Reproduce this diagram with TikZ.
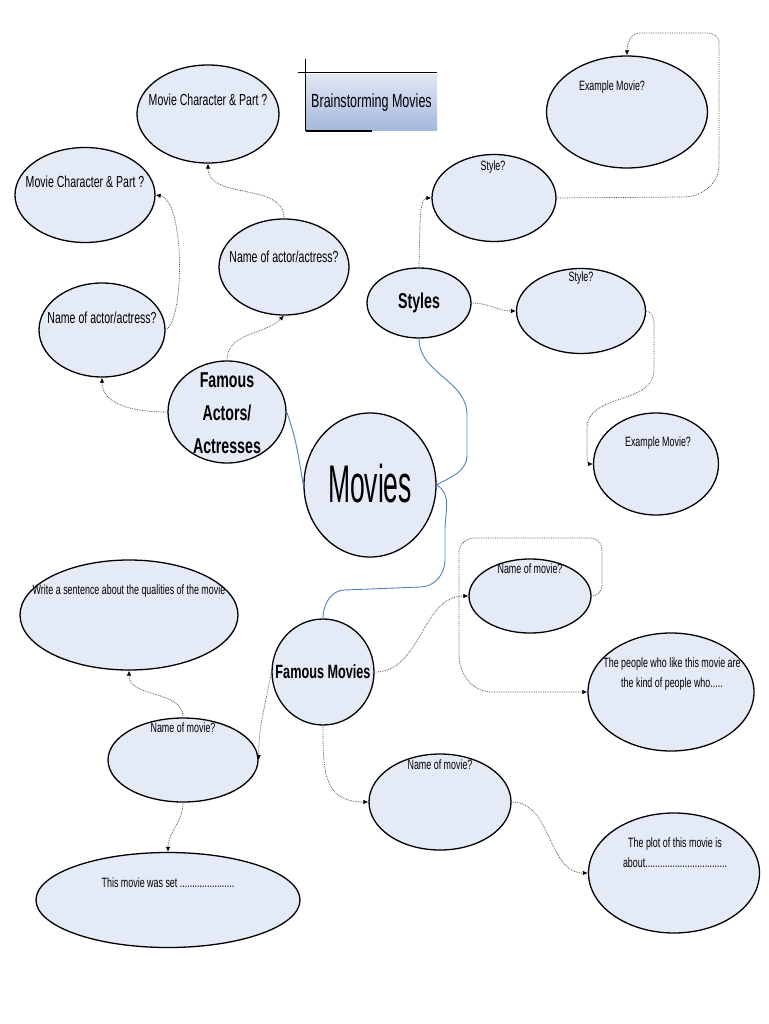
\documentclass[tikz,border=0pt]{standalone}
\usepackage{fontspec}
\setmainfont{Liberation Sans}[FakeStretch=0.66]
\newfontfamily\tallfont{Liberation Sans}[FakeStretch=0.5]
\usepackage{tikz}
\usetikzlibrary{shapes.geometric, arrows.meta}

\definecolor{bubblefill}{RGB}{228,234,246}
\definecolor{trunkblue}{RGB}{79,129,189}
\definecolor{linkgray}{RGB}{70,70,70}
\definecolor{titletop}{RGB}{224,231,243}
\definecolor{titlebot}{RGB}{163,184,222}

\tikzset{
    bubble/.style={ellipse, draw=black, line width=1.3pt, fill=bubblefill, inner sep=0pt},
    note/.style={inner sep=0pt, align=center, font=\fontsize{13.5}{20}\selectfont},
    midnote/.style={note, font=\fontsize{16}{19}\selectfont},
    bignote/.style={note, font=\bfseries\fontsize{21.5}{33}\selectfont},
    link/.style={draw=linkgray, densely dotted, line width=0.75pt, -{Latex[length=5pt,width=4.5pt,black]}},
    trunk/.style={draw=trunkblue, line width=0.9pt},
    titlebox/.style={rectangle, top color=titletop, bottom color=titlebot, inner sep=0pt,
        minimum width=131pt, minimum height=56pt, font=\fontsize{19}{22}\selectfont}
}

\begin{document}
\begin{tikzpicture}[x=1pt, y=1pt]
    \useasboundingbox (0,0) rectangle (768,-1024);

    % title box with its three rules
    \node[titlebox] (title) at (371.5,-103) {Brainstorming Movies};
    \draw[line width=1.2pt] ([xshift=-8pt,yshift=2pt]title.north west) -- ([yshift=2pt]title.north east);
    \draw[line width=1pt] (title.south west) -- ++(0,72);
    \draw[line width=2pt] (title.south west) -- ++(66,0);

    % the bubbles (text is set separately, near the top of each)
    \node[bubble, minimum width=132pt, minimum height=144pt] (movies) at (370,-485) {};
    \node[bubble, minimum width=118pt, minimum height=102pt] (actors) at (227,-412) {};
    \node[bubble, minimum width=130pt, minimum height=96pt] (actorUp) at (284,-267) {};
    \node[bubble, minimum width=126pt, minimum height=94pt] (actorLeft) at (102,-330) {};
    \node[bubble, minimum width=142pt, minimum height=98pt] (charTop) at (208,-114) {};
    \node[bubble, minimum width=140pt, minimum height=95pt] (charLeft) at (85,-195) {};
    \node[bubble, minimum width=104pt, minimum height=70pt] (styles) at (419,-303) {};
    \node[bubble, minimum width=124pt, minimum height=87pt] (styleTop) at (494,-198) {};
    \node[bubble, minimum width=129pt, minimum height=85pt] (styleRight) at (581,-311) {};
    \node[bubble, minimum width=161pt, minimum height=112pt] (exTop) at (627,-112) {};
    \node[bubble, minimum width=125pt, minimum height=102pt] (exRight) at (656,-464) {};
    \node[bubble, minimum width=102pt, minimum height=106pt] (fm) at (323,-672) {};
    \node[bubble, minimum width=122pt, minimum height=74pt] (nameUR) at (530,-596) {};
    \node[bubble, minimum width=166pt, minimum height=118pt] (people) at (671,-692) {};
    \node[bubble, minimum width=142pt, minimum height=96pt] (nameLow) at (440,-802) {};
    \node[bubble, minimum width=171pt, minimum height=120pt] (plot) at (674,-873) {};
    \node[bubble, minimum width=218pt, minimum height=110pt] (write) at (129,-615) {};
    \node[bubble, minimum width=150pt, minimum height=84pt] (nameLeft) at (183,-760) {};
    \node[bubble, minimum width=264pt, minimum height=95pt] (setting) at (168,-900) {};

    % texts
    \node[note, font=\tallfont\fontsize{53}{60}\selectfont] (movies-txt) at (370,-484) {Movies};
    \node[bignote] (actors-txt) at (227,-413) {Famous\\Actors/\\Actresses};
    \node[midnote] (actorUp-txt) at (284,-257) {Name of actor/actress?};
    \node[midnote] (actorLeft-txt) at (102,-318) {Name of actor/actress?};
    \node[midnote] (charTop-txt) at (208,-100) {Movie Character \& Part ?};
    \node[midnote] (charLeft-txt) at (85,-182) {Movie Character \& Part ?};
    \node[bignote] (styles-txt) at (419,-303) {Styles};
    \node[note] (styleTop-txt) at (493,-167) {Style?};
    \node[note] (styleRight-txt) at (581,-278) {Style?};
    \node[note] (exTop-txt) at (612,-87) {Example Movie?};
    \node[note] (exRight-txt) at (658,-443) {Example Movie?};
    \node[bignote, font=\bfseries\fontsize{19.2}{22}\selectfont] (fm-txt) at (323,-672) {Famous Movies};
    \node[note] (nameUR-txt) at (530,-569) {Name of movie?};
    \node[note] (people-txt) at (672,-674) {The people who like this movie are\\the kind of people who.....};
    \node[note] (nameLow-txt) at (440,-765) {Name of movie?};
    \node[note] (plot-txt) at (675,-853) {The plot of this movie is\\about.................................};
    \node[note] (write-txt) at (129,-591) {Write a sentence about the qualities of the movie};
    \node[note] (nameLeft-txt) at (183,-728) {Name of movie?};
    \node[note] (setting-txt) at (168,-883) {This movie was set ......................};

    % blue trunks from the centre
    \draw[trunk] (movies.west) to[out=100, in=-70] (actors.east);
    \draw[trunk] (movies.east) to[out=30, in=-90] (467,-455) -- (467,-415) to[out=90, in=-90] (styles.south);
    \draw[trunk] (movies.east) to[out=-30, in=90] (445,-530) -- (445,-560)
        to[out=-90, in=0] (420,-587) -- (345,-590) to[out=180, in=90] (fm.north);

    % dotted links, actors side
    \draw[link] (actors.west) to[out=180, in=-90] (actorLeft.south);
    \draw[link] (actorLeft.east) .. controls (185,-320) and (185,-200) .. (charLeft.east);
    \draw[link] (actors.north) to[out=90, in=-135] (actorUp.south);
    \draw[link] (actorUp.north) to[out=90, in=-90] (charTop.south);

    % styles side
    \draw[link] (styles.north) .. controls (420,-215) and (420,-198) .. (styleTop.west);
    \draw[link] (styleTop.east) -- (683,-197) to[out=0, in=-90] (719,-165) -- (719,-42)
        to[out=90, in=0] (707,-33) -- (640,-33) to[out=180, in=90] (exTop.north);
    \draw[link] (styles.east) to[out=0, in=180] (styleRight.west);
    \draw[link] (styleRight.east) to[out=-10, in=90] (654,-335) -- (654,-370)
        to[out=-90, in=90] (587,-428) -- (587,-452) to[out=-90, in=180] (exRight.west);

    % famous movies side
    \draw[link] (fm.east) to[out=0, in=180] (nameUR.west);
    \draw[link] (nameUR.east) to[out=0, in=-90] (602,-585) -- (602,-550) to[out=90, in=0] (590,-538)
        -- (475,-538) to[out=180, in=90] (459,-552) -- (459,-655) to[out=-90, in=180] (492,-692) -- (people.west);
    \draw[link] (fm.south) to[out=-90, in=180, looseness=1.3] (nameLow.west);
    \draw[link] (nameLow.east) to[out=0, in=180] (plot.west);
    \draw[link] (fm.west) to[out=-100, in=90] (nameLeft.east);
    \draw[link] (nameLeft.north) to[out=90, in=-90] (write.south);
    \draw[link] (nameLeft.south) to[out=-90, in=90] (setting.north);
\end{tikzpicture}
\end{document}
